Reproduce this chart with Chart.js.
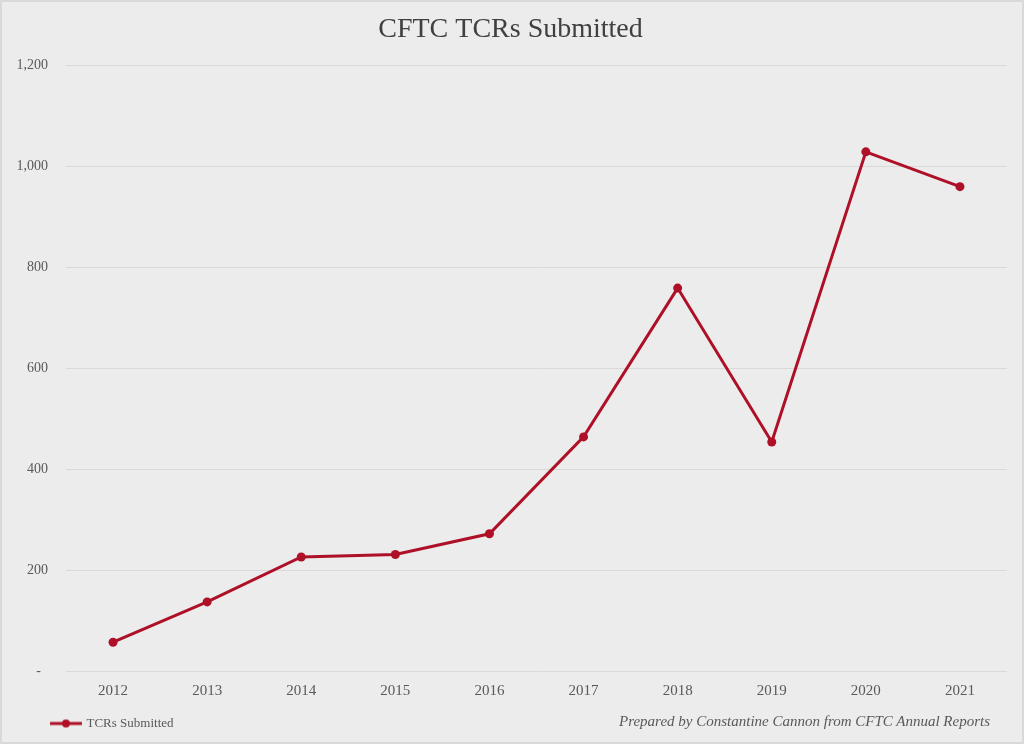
<!DOCTYPE html>
<html>
<head>
<meta charset="utf-8">
<script src="https://cdn.jsdelivr.net/npm/chart.js@4/dist/chart.umd.min.js"></script>
<style>
  html, body { margin: 0; padding: 0; background: #ececec; }
  #wrap { position: relative; width: 1024px; height: 744px; background: #ececec; overflow: hidden; }
  #c { position: absolute; left: 0; top: 0; }
  #frame { position: absolute; left: 0; top: 0; width: 1024px; height: 744px; box-sizing: border-box; border: 2px solid #d9d9d9; pointer-events: none; }
  #footer { position: absolute; right: 34px; top: 713px; font-family: "Liberation Serif", serif; font-style: italic; font-size: 15px; color: #595959; white-space: nowrap; }
</style>
</head>
<body>
<div id="wrap">
  <canvas id="c" width="1024" height="744"></canvas>
  <div id="frame"></div>
  <div id="footer">Prepared by Constantine Cannon from CFTC Annual Reports</div>
</div>
<script>
const years = ["2012","2013","2014","2015","2016","2017","2018","2019","2020","2021"];
const tcrsSubmitted = [57, 137, 226, 231, 272, 464, 759, 454, 1029, 960];
const yTicks = [0, 200, 400, 600, 800, 1000, 1200];

const RED = "#ae1027";
const FONT = "'Liberation Serif', serif";

// legend symbol: line with a dot
const sym = document.createElement('canvas');
sym.width = 32; sym.height = 10;
(function(){
  const g = sym.getContext('2d');
  g.strokeStyle = RED; g.lineWidth = 3;
  g.beginPath(); g.moveTo(0,5); g.lineTo(32,5); g.stroke();
  g.fillStyle = RED; g.beginPath(); g.arc(16,5,4,0,Math.PI*2); g.fill();
})();

const shiftLegend = {
  id: 'shiftLegend',
  afterLayout(chart) { if (chart.legend) { chart.legend.left += 26; } }
};

new Chart(document.getElementById('c'), {
  type: 'line',
  data: {
    labels: years,
    datasets: [{
      label: 'TCRs Submitted',
      data: tcrsSubmitted,
      borderColor: RED,
      backgroundColor: RED,
      borderWidth: 3,
      pointRadius: 4.5,
      pointHoverRadius: 4.5,
      pointBackgroundColor: RED,
      pointBorderColor: RED,
      pointBorderWidth: 0,
      tension: 0
    }]
  },
  plugins: [shiftLegend],
  options: {
    responsive: false,
    animation: false,
    layout: { padding: { left: 14, right: 17, top: 0, bottom: 4 } },
    plugins: {
      title: {
        display: true,
        text: 'CFTC TCRs Submitted',
        color: '#404040',
        font: { family: FONT, size: 28, weight: 'normal' },
        padding: { top: 13, bottom: 19 }
      },
      legend: {
        position: 'bottom',
        align: 'start',
        labels: {
          usePointStyle: true,
          pointStyle: sym,
          pointStyleWidth: 28,
          color: '#595959',
          font: { family: FONT, size: 13 },
          padding: 12
        }
      },
      tooltip: { enabled: false }
    },
    scales: {
      x: {
        offset: true,
        grid: { display: false },
        border: { display: false },
        ticks: { color: '#595959', font: { family: FONT, size: 15 }, padding: 3 },
        afterFit: (axis) => { axis.height = 34; }
      },
      y: {
        min: 0, max: 1200,
        afterBuildTicks: (axis) => { axis.ticks = yTicks.map(v => ({ value: v })); },
        grid: { color: '#d9d9d9', lineWidth: 1, drawTicks: false },
        border: { display: false },
        ticks: {
          color: '#595959',
          font: { family: FONT, size: 14 },
          padding: 18,
          callback: (v) => v === 0 ? '-  ' : v.toLocaleString('en-US')
        },
        afterFit: (axis) => { axis.width = 52; }
      }
    }
  }
});
</script>
</body>
</html>
